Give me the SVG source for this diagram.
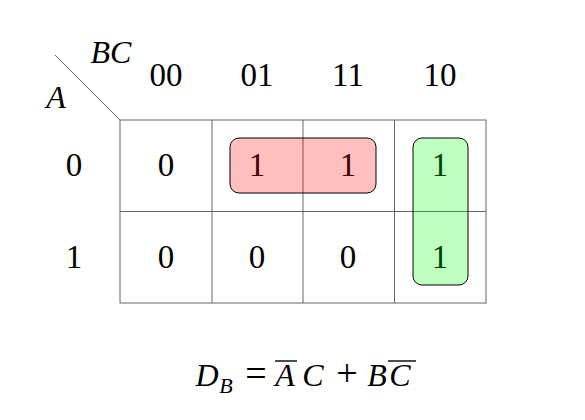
<svg xmlns="http://www.w3.org/2000/svg" width="585" height="420" viewBox="0 0 585 420">
<style>
.t{font-family:"Liberation Serif","DejaVu Serif",serif;font-size:33px;fill:#000;text-anchor:middle}
.i{font-style:italic;font-size:32px}
.g{stroke:#666;stroke-width:1;fill:none}
.o{stroke:#000;stroke-width:1.4}
</style>
<rect width="585" height="420" fill="#fff"/>
<g id="grid">
<rect class="g" x="120" y="120" width="366" height="183"/>
<line class="g" x1="212" y1="120" x2="212" y2="303"/>
<line class="g" x1="303" y1="120" x2="303" y2="303"/>
<line class="g" x1="394.5" y1="120" x2="394.5" y2="303"/>
<line class="g" x1="120" y1="211.5" x2="486" y2="211.5"/>
<line class="g" x1="55" y1="55" x2="120" y2="120"/>
</g>
<g id="labels">
<text class="t i" x="111" y="63">BC</text>
<text class="t i" x="56" y="108">A</text>
<text class="t" x="166" y="86">00</text>
<text class="t" x="257" y="86">01</text>
<text class="t" x="348" y="86">11</text>
<text class="t" x="440" y="86">10</text>
<text class="t" x="74" y="176">0</text>
<text class="t" x="74" y="268">1</text>
</g>
<g id="cells">
<text class="t" x="166" y="176">0</text>
<text class="t" x="257" y="176">1</text>
<text class="t" x="348" y="176">1</text>
<text class="t" x="440" y="176">1</text>
<text class="t" x="166" y="268">0</text>
<text class="t" x="257" y="268">0</text>
<text class="t" x="348" y="268">0</text>
<text class="t" x="440" y="268">1</text>
</g>
<g id="groups">
<rect x="230" y="138" width="146" height="55" rx="9" fill="#ff0000" fill-opacity="0.25" stroke="#000" stroke-width="1"/>
<rect x="413" y="138" width="55" height="147" rx="9" fill="#00ff00" fill-opacity="0.25" stroke="#000" stroke-width="1"/>
</g>
<g id="equation">
<text class="t i" x="207" y="386">D</text>
<text class="t i" x="226" y="393" style="font-size:22px">B</text>
<text class="t" x="256" y="386" style="font-size:38px">=</text>
<text class="t i" x="285" y="386">A</text>
<text class="t i" x="313" y="386">C</text>
<text class="t" x="347" y="386" style="font-size:38px">+</text>
<text class="t i" x="377" y="386">B</text>
<text class="t i" x="400" y="386">C</text>
<line class="o" x1="275" y1="361" x2="297" y2="361"/>
<line class="o" x1="388" y1="361" x2="416" y2="361"/>
</g>
</svg>
